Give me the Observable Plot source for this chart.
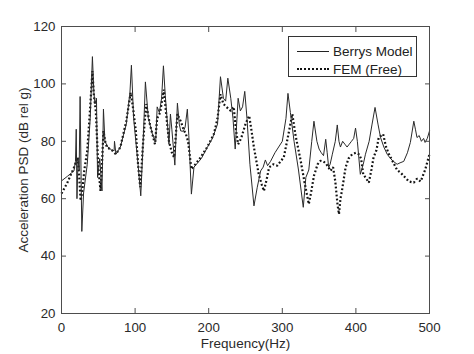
<!DOCTYPE html>
<html>
<head>
<meta charset="utf-8">
<script src="https://cdn.jsdelivr.net/npm/d3@7"></script>
<script src="https://cdn.jsdelivr.net/npm/@observablehq/plot@0.6"></script>
<style>
  html, body { margin: 0; padding: 0; background: #fff; }
  #wrap { position: relative; width: 474px; height: 354px; font-family: "Liberation Sans", Arial, sans-serif; }
  #legend { position: absolute; left: 288px; top: 36px; width: 129px; height: 41px; border: 1px solid #333; background: #fff; box-sizing: border-box; font-size: 13.5px; color: #222; }
  .row { position: absolute; left: 0; height: 16px; display: flex; align-items: center; }
  .sample { width: 32px; margin-left: 8px; margin-right: 4px; }
  .solid { border-top: 1px solid #222; }
  .dotted { border-top: 2px dotted #111; }
</style>
</head>
<body>
<div id="wrap"></div>
<script>
// Berrys Model (solid)
const berryHz = [0, 8, 17, 19, 20, 21, 22.5, 24, 25.3, 26.5,
  27.6, 30, 35, 39, 42, 44, 45.5, 47.5, 49, 52,
  55, 57, 59, 63, 68, 71.5, 72, 74, 80, 88,
  93, 95, 98, 104, 107.7, 111, 114, 118, 124, 128,
  130, 133, 136, 138.5, 141, 144, 146, 148, 150, 154,
  157.5, 160, 162, 165.6, 168, 171, 173, 176.5, 180, 190,
  198, 205, 212, 216, 220, 223, 226, 230, 233, 236,
  240, 243, 246, 249, 252, 256, 261.5, 266, 270.6, 274,
  277, 280, 284, 290, 300, 305, 307.7, 311, 316, 322,
  328.5, 332, 336, 340, 343, 347, 350, 353, 356, 359,
  361, 363, 365, 368, 372, 374.7, 377, 379, 382, 385,
  388, 391, 394, 397, 399.5, 402, 406, 410, 413, 418,
  422, 426, 430, 433.5, 438, 442.5, 447, 451, 456, 460,
  465, 470, 474, 478.7, 481, 483, 486, 489, 492, 494,
  497, 500];
const berryDb = [66.2, 67.8, 69.7, 73, 84.2, 60, 74, 70, 95.6, 70,
  48.6, 62, 72, 88, 109.5, 97, 93, 95, 67.4, 74,
  62.7, 91.2, 80, 78, 77, 76.7, 80, 75.5, 78, 86,
  97, 106.5, 88, 72, 61, 80, 100.7, 88, 82, 80,
  92, 90, 95, 106.3, 96, 86, 79, 89.5, 84, 71.7,
  93.3, 86, 83.6, 83.5, 85, 91.2, 82, 61.6, 71, 74,
  77.8, 81, 86, 102.5, 95, 94, 102, 95, 88, 77.3,
  95, 90.6, 92, 97.4, 88, 72, 57.5, 64, 69.7, 71,
  73.5, 71.5, 73, 76, 80, 88, 96.7, 90, 80, 70,
  57, 67.4, 70, 80, 87, 80, 77.3, 76, 75, 80.7,
  76, 70.9, 72, 75.5, 80, 85.7, 80, 78, 80, 79,
  78, 79, 80, 81, 84.6, 80, 68.5, 72, 75.5, 80,
  86, 91.8, 86, 81.3, 78, 75.5, 74, 73, 72, 72.5,
  73, 76, 79.6, 87, 84, 81.3, 82, 80, 81, 79.6,
  81, 83.6];

// FEM (Free) (dotted)
const femHz = [0, 8, 17, 20, 22, 24, 26, 28, 31, 35,
  39, 42, 44, 46.6, 50, 53, 55, 57, 60, 62.4,
  68, 74, 80, 88, 94, 97, 101, 104, 107, 111,
  115, 120, 127, 130, 134, 139, 142, 146, 150, 153,
  157.5, 160, 162, 166, 169, 172, 176.5, 182, 189, 198,
  207, 212, 216, 220, 224, 230, 234, 237, 240, 244,
  250, 255, 258, 261.5, 268, 272, 275, 279, 282, 288,
  293, 302, 308, 313.6, 318, 325, 330, 336, 339, 343,
  348, 352, 356, 360, 365.6, 369, 372, 375, 377, 379,
  381, 386, 390, 395, 400, 404, 407, 410, 414, 417.6,
  421, 424, 428, 431, 437, 441, 445, 450, 456, 461,
  467, 472, 478.7, 483, 488, 494, 500];
const femDb = [61.8, 65.6, 70.9, 73, 74.4, 68, 59.3, 62, 70, 76.7,
  92, 104.5, 96, 90.6, 71, 62.7, 72, 83.6, 79, 77.8,
  77, 75.5, 78, 87, 97, 92, 83.6, 72, 64, 80,
  93, 86, 79, 88, 90, 98, 90, 80, 76, 74.4,
  89.5, 88, 87, 84, 82.5, 80, 70.3, 72, 74.4, 78,
  82.5, 88, 96.4, 93, 92, 90.6, 92, 84, 79, 81,
  86, 88.9, 84, 77.8, 68.5, 65, 62.7, 67, 70.9, 72,
  71.5, 74.4, 82, 89.5, 82, 73.2, 66, 58.1, 62, 68,
  72, 73.2, 73, 72, 69.7, 71, 66, 58, 54.6, 60,
  62.7, 70.9, 74, 75.5, 76, 75.5, 74, 68.5, 67, 65.6,
  70, 74.4, 77, 81.3, 82.5, 78, 75.5, 73, 70, 69,
  67.4, 66, 65.6, 67, 66, 70, 75.5];

const xTicks = [0, 100, 200, 300, 400, 500];
const yTicks = [20, 40, 60, 80, 100, 120];
const seriesNames = ["Berrys Model", "FEM (Free)"];
const xLabel = "Frequency(Hz)";
const yLabel = "Acceleration PSD (dB rel g)";

const berry = berryHz.map((f, i) => ({f, v: berryDb[i]}));
const fem = femHz.map((f, i) => ({f, v: femDb[i]}));

const axisColor = "#4d4d4d";
const textColor = "#2a2a2a";
const noText = () => "";

const chart = Plot.plot({
  width: 474,
  height: 354,
  marginLeft: 61,
  marginRight: 45,
  marginTop: 26,
  marginBottom: 41,
  style: { fontFamily: "'Liberation Sans', Arial, sans-serif", fontSize: "13px", background: "#fff", color: textColor },
  x: { domain: [0, 500] },
  y: { domain: [20, 120] },
  marks: [
    Plot.line(fem, { x: "f", y: "v", stroke: "#111", strokeWidth: 2.2, strokeDasharray: "1.8,2.2", strokeLinecap: "butt", strokeLinejoin: "miter" }),
    Plot.line(berry, { x: "f", y: "v", stroke: "#2a2a2a", strokeWidth: 1 }),
    Plot.frame({ stroke: axisColor, strokeWidth: 1 }),
    // inward ticks on all four sides
    Plot.axisX({ anchor: "bottom", ticks: xTicks, tickSize: 5, dy: -5, tickFormat: noText, label: null, stroke: axisColor }),
    Plot.axisX({ anchor: "top", ticks: xTicks, tickSize: 5, dy: 5, tickFormat: noText, label: null, stroke: axisColor }),
    Plot.axisY({ anchor: "left", ticks: yTicks, tickSize: 5, dx: 5, tickFormat: noText, label: null, stroke: axisColor }),
    Plot.axisY({ anchor: "right", ticks: yTicks, tickSize: 5, dx: -5, tickFormat: noText, label: null, stroke: axisColor }),
    // tick labels
    Plot.axisX({ anchor: "bottom", ticks: xTicks, tickSize: 0, tickPadding: 9, label: null, fill: textColor, fontSize: 13.3 }),
    Plot.axisY({ anchor: "left", ticks: yTicks, tickSize: 0, tickPadding: 6, label: null, fill: textColor, fontSize: 13.3 }),
    // axis titles
    Plot.text([xLabel], { frameAnchor: "bottom", dy: 34, text: d => d, fill: textColor, fontSize: 13.5 }),
    Plot.text([yLabel], { frameAnchor: "left", textAnchor: "middle", dx: -38, rotate: -90, text: d => d, fill: textColor, fontSize: 13.5 })
  ]
});

const wrap = document.getElementById("wrap");
wrap.appendChild(chart);

const legend = document.createElement("div");
legend.id = "legend";
const styles = ["solid", "dotted"];
const tops = [6, 24];
seriesNames.forEach((name, i) => {
  const row = document.createElement("div");
  row.className = "row";
  row.style.top = tops[i] + "px";
  const s = document.createElement("div");
  s.className = "sample " + styles[i];
  const t = document.createElement("span");
  t.textContent = name;
  row.appendChild(s);
  row.appendChild(t);
  legend.appendChild(row);
});
wrap.appendChild(legend);
</script>
</body>
</html>
